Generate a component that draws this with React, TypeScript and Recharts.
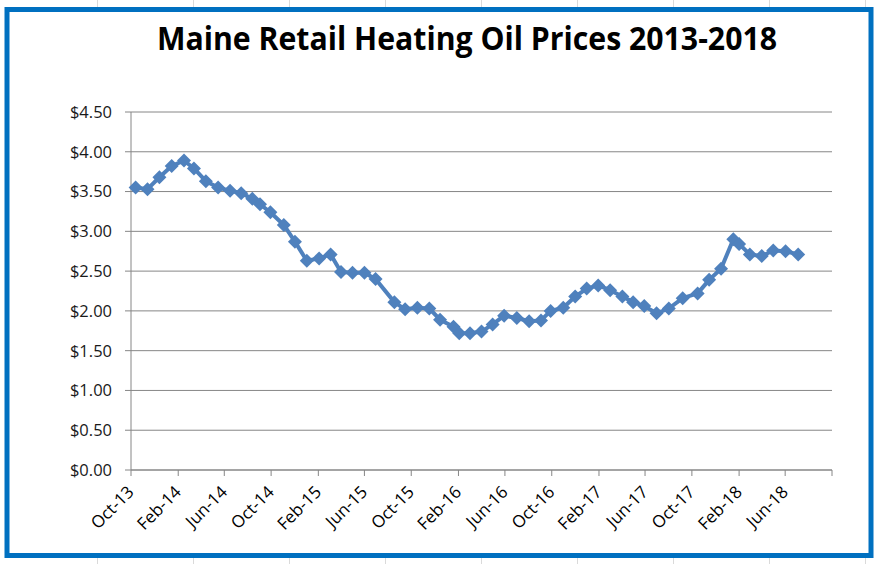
import { CartesianGrid, Line, LineChart, XAxis, YAxis } from "recharts"

// survey dates and average retail price ($/gal)
const surveyDates = [
  "2013-10-13", "2013-11-13", "2013-12-14", "2014-01-15", "2014-02-16", "2014-03-14",
  "2014-04-14", "2014-05-16", "2014-06-16", "2014-07-15", "2014-08-13", "2014-09-02",
  "2014-09-29", "2014-11-03", "2014-12-02", "2015-01-02", "2015-02-03", "2015-03-05",
  "2015-04-01", "2015-05-01", "2015-06-01", "2015-06-30", "2015-08-18", "2015-09-15",
  "2015-10-17", "2015-11-17", "2015-12-15", "2016-01-19", "2016-02-03", "2016-03-02",
  "2016-04-01", "2016-04-30", "2016-05-30", "2016-07-02", "2016-08-03", "2016-09-03",
  "2016-09-28", "2016-10-31", "2016-12-01", "2016-12-31", "2017-01-30", "2017-03-02",
  "2017-04-03", "2017-05-01", "2017-05-30", "2017-07-01", "2017-08-02", "2017-09-07",
  "2017-10-16", "2017-11-15", "2017-12-16", "2018-01-17", "2018-02-01", "2018-03-01",
  "2018-04-01", "2018-05-01", "2018-06-02", "2018-07-05",
]

const prices = [
  3.55, 3.53, 3.68, 3.82, 3.89, 3.79,
  3.63, 3.55, 3.51, 3.48, 3.41, 3.34,
  3.24, 3.08, 2.87, 2.63, 2.66, 2.71,
  2.49, 2.48, 2.48, 2.40, 2.11, 2.02,
  2.04, 2.03, 1.89, 1.80, 1.72, 1.72,
  1.74, 1.83, 1.94, 1.91, 1.87, 1.88,
  2.00, 2.04, 2.18, 2.28, 2.32, 2.26,
  2.18, 2.11, 2.06, 1.97, 2.03, 2.16,
  2.22, 2.39, 2.53, 2.90, 2.84, 2.71,
  2.69, 2.76, 2.75, 2.71,
]

const tickDates = [
  "2013-10-01", "2014-02-01", "2014-06-01", "2014-10-01", "2015-02-01", "2015-06-01",
  "2015-10-01", "2016-02-01", "2016-06-01", "2016-10-01", "2017-02-01", "2017-06-01",
  "2017-10-01", "2018-02-01", "2018-06-01", "2018-10-01",
]

const tickLabels = [
  "Oct-13", "Feb-14", "Jun-14", "Oct-14", "Feb-15", "Jun-15",
  "Oct-15", "Feb-16", "Jun-16", "Oct-16", "Feb-17", "Jun-17",
  "Oct-17", "Feb-18", "Jun-18", "",
]

const priceTicks = [0, 0.5, 1, 1.5, 2, 2.5, 3, 3.5, 4, 4.5]

const data = surveyDates.map((d, i) => ({ t: Date.parse(d), price: prices[i] }))
const tickTimes = tickDates.map((d) => Date.parse(d))

const BLUE = "#4F81BD"
const AXIS = "#868686"
const FONT = "'Open Sans', 'Noto Sans', sans-serif"

const DateTick = (props: any) => {
  const { x, y, payload } = props
  const label = tickLabels[tickTimes.indexOf(payload.value)]
  const ax = x + 4
  const ay = y + 15
  return (
    <text x={ax} y={ay} transform={`rotate(-45, ${ax}, ${ay})`} textAnchor="end"
      fontFamily={FONT} fontSize={17} fill="#000">
      {label}
    </text>
  )
}

const Diamond = (props: any) => {
  const { cx, cy } = props
  const r = 7
  return (
    <polygon points={`${cx},${cy - r} ${cx + r},${cy} ${cx},${cy + r} ${cx - r},${cy}`} fill={BLUE} />
  )
}

// faint sheet cell lines peeking out around the chart frame
const cellLines = [97.5, 193.5, 289.5, 385.5, 481.5, 577.5, 673.5, 769.5, 865.5]

const App = () => {
  return (
    <div style={{ position: "fixed", left: 0, top: 0, width: 876, height: 564, background: "#fff" }}>
      <svg width={876} height={564} style={{ position: "absolute", left: 0, top: 0 }}>
        {cellLines.map((x) => (
          <g key={x}>
            <line x1={x} x2={x} y1={0} y2={7} stroke="#DADADA" />
            <line x1={x} x2={x} y1={558} y2={564} stroke="#DADADA" />
          </g>
        ))}
        <rect x={7} y={9.5} width={864} height={546} fill="#fff" stroke="#0070C0" strokeWidth={5} />
        <text x={467} y={50} textAnchor="middle" fontFamily={FONT} fontWeight="bold" fontSize={33}
          textLength={620} lengthAdjust="spacingAndGlyphs" fill="#000">
          Maine Retail Heating Oil Prices 2013-2018
        </text>
      </svg>
      <div style={{ position: "absolute", left: 0, top: 0 }}>
        <LineChart width={876} height={564} data={data} margin={{ top: 112, right: 44, bottom: 34, left: 71 }}>
          <CartesianGrid vertical={false} stroke={AXIS} strokeDasharray="" />
          <XAxis
            dataKey="t" type="number" domain={[tickTimes[0], tickTimes[tickTimes.length - 1]]}
            ticks={tickTimes} interval={0} height={60} tickSize={6}
            axisLine={{ stroke: AXIS }} tickLine={{ stroke: AXIS }} tick={<DateTick />}
          />
          <YAxis
            type="number" domain={[0, 4.5]} ticks={priceTicks} width={60} tickSize={6} tickMargin={13}
            tickFormatter={(v: number) => "$" + v.toFixed(2)}
            axisLine={{ stroke: AXIS }} tickLine={{ stroke: AXIS }}
            tick={{ fontFamily: FONT, fontSize: 16.5, fill: "#1a1a1a" }}
          />
          <Line
            type="linear" dataKey="price" stroke={BLUE} strokeWidth={4} strokeLinejoin="round"
            dot={<Diamond />} activeDot={false} isAnimationActive={false}
          />
        </LineChart>
      </div>
    </div>
  )
}

export default App
